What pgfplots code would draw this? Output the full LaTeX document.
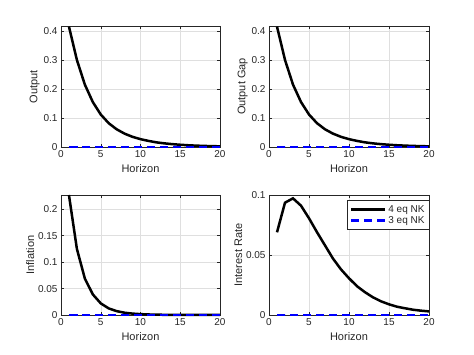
\documentclass[border=0pt]{standalone}
\usepackage{pgfplots}
\pgfplotsset{compat=1.18}
\usepackage{fontspec}
\setmainfont{Liberation Sans}
\definecolor{axgray}{RGB}{38,38,38}
\definecolor{gridgray}{RGB}{223,223,223}
\pgfplotsset{
  irf/.style={
    scale only axis, anchor=south west,
    xmin=0, xmax=20, ymin=0,
    xtick={0,5,10,15,20},
    grid=major, grid style={gridgray, line width=0.5pt},
    axis line style={axgray, line width=0.5pt},
    tick style={axgray, line width=0.5pt},
    major tick length=3pt,
    tick align=inside,
    ticklabel style={font=\fontsize{10}{12}\selectfont, text=axgray},
    label style={font=\fontsize{11}{13}\selectfont, text=axgray},
    ylabel shift=-3pt,
    xlabel={Horizon},
    clip=false,
    /pgf/number format/assume math mode=true,
  },
  nk4/.style={black, line width=2.5pt},
  nk3/.style={blue, line width=2.5pt, dash pattern=on 8pt off 5pt},
}
\pgfplotstableread{
h v
1 0.415
2 0.300
3 0.215
4 0.155
5 0.112
6 0.082
7 0.061
8 0.046
9 0.035
10 0.027
11 0.021
12 0.016
13 0.0125
14 0.0098
15 0.0077
16 0.006
17 0.0047
18 0.0037
19 0.0029
20 0.0023
}\outputdata
\pgfplotstableread{
h v
1 0.415
2 0.300
3 0.215
4 0.155
5 0.112
6 0.082
7 0.061
8 0.046
9 0.035
10 0.027
11 0.021
12 0.016
13 0.0125
14 0.0098
15 0.0077
16 0.006
17 0.0047
18 0.0037
19 0.0029
20 0.0023
}\gapdata
\pgfplotstableread{
h v
1 0.227
2 0.125
3 0.069
4 0.039
5 0.022
6 0.0125
7 0.0073
8 0.0043
9 0.0026
10 0.0016
11 0.001
12 0.0006
13 0.0004
14 0.00025
15 0.00015
16 0.0001
17 0.00006
18 0.00004
19 0.00002
20 0.00001
}\inflationdata
\pgfplotstableread{
h v
1 0.0689
2 0.0936
3 0.0972
4 0.0911
5 0.0806
6 0.069
7 0.058
8 0.047
9 0.038
10 0.0306
11 0.024
12 0.019
13 0.0147
14 0.0114
15 0.0089
16 0.0069
17 0.0056
18 0.0044
19 0.0036
20 0.003
}\ratedata
\pgfplotstableread{
h v
1 0
2 0
3 0
4 0
5 0
6 0
7 0
8 0
9 0
10 0
11 0
12 0
13 0
14 0
15 0
16 0
17 0
18 0
19 0
20 0
}\zerodata
\begin{document}
\begin{tikzpicture}
\path[use as bounding box] (0,0) rectangle (474pt,355pt);
% top left
\begin{axis}[irf, at={(61pt,208pt)}, width=159pt, height=121pt,
  ymax=0.417, ytick={0,0.1,0.2,0.3,0.4}, yticklabels={0,0.1,0.2,0.3,0.4},
  ylabel={Output}]
\addplot[nk4] table[x=h,y=v] {\outputdata};
\addplot[nk3] table[x=h,y=v] {\zerodata};
\end{axis}
% top right
\begin{axis}[irf, at={(269pt,208pt)}, width=160pt, height=121pt,
  ymax=0.417, ytick={0,0.1,0.2,0.3,0.4}, yticklabels={0,0.1,0.2,0.3,0.4},
  ylabel={Output Gap}]
\addplot[nk4] table[x=h,y=v] {\gapdata};
\addplot[nk3] table[x=h,y=v] {\zerodata};
\end{axis}
% bottom left
\begin{axis}[irf, at={(61pt,40pt)}, width=159pt, height=120pt,
  ymax=0.227, ytick={0,0.05,0.1,0.15,0.2}, yticklabels={0,0.05,0.1,0.15,0.2},
  ylabel={Inflation}]
\addplot[nk4] table[x=h,y=v] {\inflationdata};
\addplot[nk3] table[x=h,y=v] {\zerodata};
\end{axis}
% bottom right
\begin{axis}[irf, at={(269pt,40pt)}, width=160pt, height=120pt,
  ymax=0.1, ytick={0,0.05,0.1}, yticklabels={0,0.05,0.1},
  ylabel={Interest Rate},
  legend style={at={(1.005,0.955)}, anchor=north east, draw=axgray, line width=0.5pt,
    font=\fontsize{10}{11}\selectfont, text=axgray, inner xsep=3pt, inner ysep=2.5pt, row sep=-1.5pt,
    cells={anchor=west}},
  legend image code/.code={\draw[#1] (0pt,0pt) -- (34pt,0pt);}]
\addplot[nk4] table[x=h,y=v] {\ratedata};
\addlegendentry{4 eq NK}
\addplot[nk3] table[x=h,y=v] {\zerodata};
\addlegendentry{3 eq NK}
\end{axis}
\end{tikzpicture}
\end{document}
